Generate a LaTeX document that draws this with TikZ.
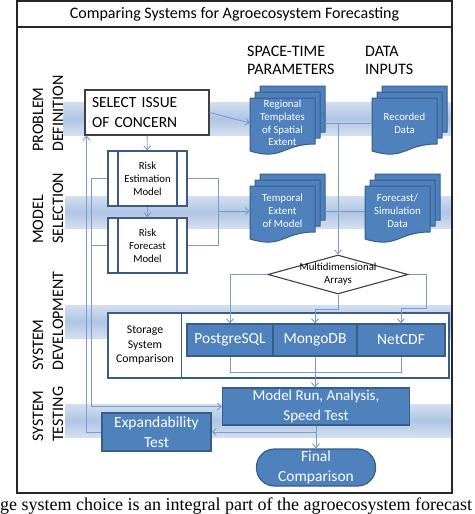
\documentclass[tikz,border=0pt]{standalone}
\usepackage{fontspec}
\setmainfont{Carlito}
\newfontfamily\capfont{Liberation Serif}
\usetikzlibrary{shapes,arrows.meta}

\definecolor{docblue}{HTML}{4F81BD}
\definecolor{docedge}{HTML}{385D8A}
\definecolor{linkblue}{HTML}{7A9CCB}
\definecolor{bandmid}{HTML}{AFC5E4}
\definecolor{bandlight}{HTML}{D3DFF0}
\definecolor{riskedge}{HTML}{3E5A82}

% stack of three documents, front one with its top left corner at (#2,#3)
\newcommand{\multidoc}[4]{%
  \foreach \d in {10,5,0}{
    \filldraw[docshape] (#2+\d,#3-1.2*\d) -- (#2+\d+65,#3-1.2*\d) -- (#2+\d+65,#3-1.2*\d+46)
      .. controls (#2+\d+32.5,#3-1.2*\d+46) and (#2+\d+32.5,#3-1.2*\d+63) .. (#2+\d,#3-1.2*\d+53) -- cycle;
  }
  \draw (#2+32.5,#3+25) node[doctext] (#1){#4};
}

\begin{document}
\begin{tikzpicture}[x=1pt,y=-1pt]
  \tikzstyle{band}=[top color=bandlight,bottom color=bandlight,middle color=bandmid]
  \tikzstyle{link}=[linkblue,line width=0.9pt]
  \tikzstyle{arr}=[link,-{Straight Barb[length=4pt,width=7pt]}]
  \tikzstyle{docshape}=[draw=docedge,fill=docblue,line width=1pt]
  \tikzstyle{doctext}=[text=white,align=center,inner sep=0pt,minimum width=65,minimum height=40,font=\fontsize{10.8}{12.8}\selectfont]
  \tikzstyle{bluebox}=[draw=docedge,fill=docblue,line width=1.2pt,text=white,align=center,inner sep=0pt,font=\fontsize{15.5}{19.5}\selectfont]
  \tikzstyle{riskbox}=[draw=riskedge,fill=white,line width=1.3pt,align=center,inner sep=0pt,minimum width=79,minimum height=55,
    font=\fontsize{10.8}{13}\selectfont,
    path picture={\draw[riskedge,line width=1.3pt]
      ([xshift=10pt]path picture bounding box.north west) -- ([xshift=10pt]path picture bounding box.south west)
      ([xshift=-10pt]path picture bounding box.north east) -- ([xshift=-10pt]path picture bounding box.south east);}]
  \tikzstyle{seclabel}=[rotate=90,align=left,anchor=west,inner sep=0pt,font=\fontsize{16}{20}\selectfont]
  \tikzstyle{headtext}=[align=left,anchor=north west,inner sep=0pt,font=\fontsize{16}{18}\selectfont]

  \useasboundingbox (0,0) rectangle (474,514);

  % swim lane bands
  \shade[band] (63,102) rectangle (452,135);
  \shade[band] (65,196) rectangle (452,228);
  \shade[band] (65,305) rectangle (452,338);
  \shade[band] (65,404) rectangle (452,437);

  % frame and title
  \draw[line width=1.5pt,black!85] (17,1) rectangle (452,493);
  \draw[line width=1.2pt,black!85] (17,27) -- (452,27);
  \draw (234.5,14) node[font=\fontsize{16}{18}\selectfont] (title){Comparing Systems for Agroecosystem Forecasting};

  \draw (48,152) node[seclabel] (pdef){PROBLEM\\DEFINITION};
  \draw (48,244) node[seclabel] (msel){MODEL\\SELECTION};
  \draw (48,371) node[seclabel] (sdev){SYSTEM\\DEVELOPMENT};
  \draw (48,442) node[seclabel] (stest){SYSTEM\\TESTING};

  \draw (247,46) node[headtext] (sthead){SPACE-TIME\\PARAMETERS};
  \draw (365,46) node[headtext] (dihead){DATA\\INPUTS};

  % left column
  \draw (147,112.5) node[draw=black!75,fill=white,line width=1.1pt,minimum width=124,minimum height=45,
    text width=110,inner xsep=7pt,align=left,font=\fontsize{15.5}{20}\selectfont] (sel){SELECT ISSUE\\OF CONCERN};
  \draw (147.5,178.5) node[riskbox] (rem){Risk\\Estimation\\Model};
  \draw (147.5,245.5) node[riskbox] (rfm){Risk\\Forecast\\Model};

  % documents
  \multidoc{reg}{250}{98}{Regional\\Templates\\of Spatial\\Extent}
  \multidoc{rec}{372}{98}{Recorded\\Data}
  \multidoc{tem}{250}{186}{Temporal\\Extent\\of Model}
  \multidoc{fsd}{365}{186}{Forecast/\\Simulation\\Data}

  \draw (338,274.5) node[diamond,draw=black!75,fill=white,line width=1.1pt,minimum width=140,minimum height=39,inner sep=0pt] (dia){};
  \draw (dia) node[align=center,inner sep=0pt,font=\fontsize{10.8}{13}\selectfont] (diatext){Multidimensional\\Arrays};

  % storage comparison
  \draw (278.5,345.5) node[draw=docedge,fill=white,line width=1.2pt,minimum width=341,minimum height=65] (stor){};
  \draw[docedge,line width=1.2pt] ([xshift=74pt]stor.north west) -- ([xshift=74pt]stor.south west);
  \draw (145,345.5) node[align=center,inner sep=0pt,font=\fontsize{11.8}{14.5}\selectfont] (storlab){Storage\\System\\Comparison};
  \draw (230,340) node[bluebox,minimum width=86,minimum height=32] (pg){PostgreSQL};
  \draw (315,340) node[bluebox,minimum width=84,minimum height=32] (mg){MongoDB};
  \draw (401,340) node[bluebox,minimum width=88,minimum height=32] (nc){NetCDF};

  % testing
  \draw (316,406.5) node[bluebox,minimum width=187,minimum height=37,font=\fontsize{15}{19.5}\selectfont] (run){Model Run, Analysis,\\Speed Test};
  \draw (156.5,432) node[bluebox,minimum width=109,minimum height=38] (exp){Expandability\\Test};
  \draw (316,467.5) node[bluebox,minimum width=119,minimum height=37,rounded corners=18pt] (fin){Final\\Comparison};

  % connectors
  \draw[arr] (sel) -- (rem);
  \draw[arr] (rem) -- (rfm);
  \draw[arr] (sel.east) -- (reg.west);
  \draw[link] (rem.west) -- ++(-16,0) coordinate (lb);
  \draw[arr] (lb) |- (run.west);
  \draw[link] (rfm.west) -- (rfm.west -| lb);
  \draw[link] (rem.east) -- ++(31,0) coordinate (rt) |- (rfm.east);
  \draw[arr] (rt |- tem.west) -- (tem.west);
  \draw[link] ([xshift=10pt]reg.east) -- (rec.west);
  \draw[link] ([xshift=10pt]tem.east) -- (fsd.west);
  \draw[arr] (reg.east -| dia.north) -- (dia.north);
  \draw[arr] (dia.west) -| (pg.north);
  \draw[arr] (dia.east) -- ++(18,0) -- ++(0,34) -| (nc.north);
  \draw[arr] (dia.south) -- ++(0,15) -| (mg.north);
  \draw[link] (pg.south) -- ++(0,16) -| (nc.south);
  \draw[arr] (mg.south) -- (mg.south |- run.north);
  \draw[arr] (run.south -| fin.north) -- (fin.north);
  \draw[arr] (run.south |- exp.east) -- (exp.east);
  \draw[arr] (exp.west) -| ([xshift=2pt]sel.south west);

  % caption
  \draw (0,510) node[anchor=base west,inner sep=0pt,font=\capfont\fontsize{18}{20}\selectfont] (cap){ge system choice is an integral part of the agroecosystem forecast};
\end{tikzpicture}
\end{document}
